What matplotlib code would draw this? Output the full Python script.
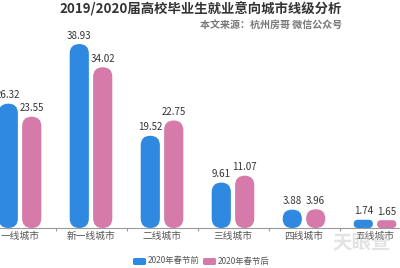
import numpy as np
import matplotlib.pyplot as plt
from matplotlib.patches import FancyBboxPatch

plt.rcParams['font.family'] = ['Noto Sans CJK SC', 'DejaVu Sans']

categories = ['一线城市', '新一线城市', '二线城市', '三线城市', '四线城市', '五线城市']
before = [26.32, 38.93, 19.52, 9.61, 3.88, 1.74]
after = [23.55, 34.02, 22.75, 11.07, 3.96, 1.65]
series_names = ['2020年春节前', '2020年春节后']
colors = ['#2f89e0', '#d57aa9']

W, H = 400, 268
fig = plt.figure(figsize=(W / 100, H / 100), dpi=100)
ax = fig.add_axes([0, 1 - 228 / H, 1, 189 / H])
ax.set_xlim(-20 / 71, 380 / 71)
ax.set_ylim(0, 40)

# pixel size of one data unit, used to keep the bar ends round
xpx = W / (ax.get_xlim()[1] - ax.get_xlim()[0])
ypx = 189 / 40

x = np.arange(len(categories))
bw = 0.27
off = 0.165
for vals, sign, col in [(before, -1, colors[0]), (after, 1, colors[1])]:
    for xi, v in zip(x, vals):
        r_px = min(bw * xpx, v * ypx) / 2
        p = FancyBboxPatch((xi + sign * off - bw / 2, 0), bw, v,
                           boxstyle='round,pad=0,rounding_size=%f' % (r_px / xpx),
                           mutation_aspect=xpx / ypx, fc=col, ec='none')
        ax.add_patch(p)
        ax.text(xi + sign * off, v + 0.7, '%.2f' % v, ha='center', va='bottom',
                fontsize=7, color='#333333')

for s in ['top', 'left', 'right']:
    ax.spines[s].set_visible(False)
ax.spines['bottom'].set_color('#9a9a9a')
ax.set_yticks([])
ax.set_xticks(x[:-1] + 0.5)
ax.set_xticklabels([])
ax.tick_params(axis='x', which='major', length=2, color='#9a9a9a')
ax.set_xticks(x, categories, minor=True)
ax.tick_params(axis='x', which='minor', length=0, pad=2, labelsize=7, labelcolor='#555555')

fig.text(201 / W, 1 - 9 / H, '2019/2020届高校毕业生就业意向城市线级分析', ha='center', va='center',
         fontsize=9.6, fontweight='bold', color='#333333')
fig.text(342 / W, 1 - 25 / H, '本文来源：杭州房哥 微信公众号', ha='right', va='center',
         fontsize=7.2, fontweight='bold', color='#777777')

# legend
for lx, name, col in [(133, series_names[0], colors[0]), (203, series_names[1], colors[1])]:
    fig.patches.append(FancyBboxPatch((lx / W, 1 - 265 / H), 13 / W, 7 / H,
                                      boxstyle='round,pad=0,rounding_size=0.004',
                                      mutation_aspect=W / H, fc=col, ec='none',
                                      transform=fig.transFigure, figure=fig))
    fig.text((lx + 15) / W, 1 - 261 / H, name, ha='left', va='center', fontsize=6, color='#555555')

# watermark
fig.text(362 / W, 1 - 243 / H, '天眼查', ha='center', va='center', fontsize=14,
         color='#c8c8c8', alpha=0.5, fontweight='bold')

fig.savefig('out.png', dpi=100)
